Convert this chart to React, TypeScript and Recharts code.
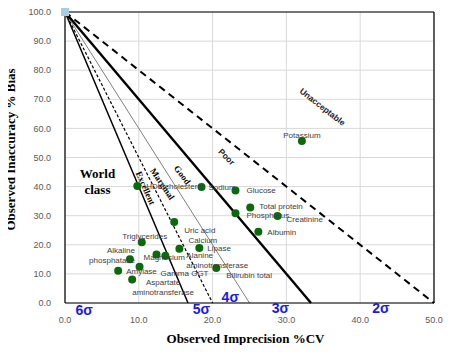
import { ScatterChart, Scatter, XAxis, YAxis, CartesianGrid, ReferenceLine, ReferenceDot, Label } from 'recharts'

// sigma decision lines, TEa = 100 %
const teaPercent = 100
const sigmaLevels = [6, 5, 4, 3, 2]
const sigmaLabelX = [2.6, 18.5, 22.4, 29.2, 42.8]
const sigmaLabelY = [-2.4, -2.1, 2.1, -1.7, -1.7]

const zoneNames = ['World\nclass', 'Excellent', 'Marginal', 'Good', 'Poor', 'Unacceptable']
const zoneX = [4.4, 10.9, 13.2, 15.9, 21.9, 34.9]
const zoneY = [42.0, 39.5, 40.9, 44.0, 50.2, 67.4]
const zoneAngle = [0, 66, 56, 53, 45, 38]

const analytes = [
  'HDL-cholesterol', 'Sodium', 'Glucose', 'Potassium', 'Total protein', 'Phosphorus',
  'Creatinine', 'Albumin', 'Uric acid', 'Triglycerides', 'Alkaline\nphosphatase', 'Magnesium',
  'Amylase', 'Aspartate\naminotransferase', 'Gamma GGT', 'Alanine\naminotransferase', 'Calcium',
  'Lipase', 'Bilirubin total',
]
const cvValues = [9.8, 18.5, 23.1, 32.1, 25.1, 23.1, 28.8, 26.2, 14.8, 10.4, 8.8, 10.1, 7.2, 9.1, 12.4, 13.6, 15.5, 18.2, 20.5]
const biasValues = [40.2, 39.9, 38.7, 55.7, 32.8, 30.8, 29.9, 24.5, 27.8, 20.9, 15.0, 12.5, 11.1, 8.1, 16.7, 16.2, 18.6, 18.9, 12.0]
// label offset in px from the point: dx, dy, anchor
const labelOffsets: [number, number, string][] = [
  [9, 0, 'start'], [7, 0, 'start'], [11, 0, 'start'], [0, -6, 'middle'], [9, -2, 'start'], [11, 2, 'start'],
  [9, 3, 'start'], [9, 0, 'start'], [10, 8, 'start'], [3, -6, 'middle'], [5, -4, 'end'], [4, -10, 'start'],
  [8, 0, 'start'], [31, 8, 'middle'], [4, 19, 'start'], [21, 4, 'start'], [9, -9, 'start'],
  [8, 0, 'start'], [10, 7, 'start'],
]

const points = analytes.map((name, i) => ({ name, x: cvValues[i], y: biasValues[i] }))
const origin = [{ x: 0, y: 100 }]
const xTicks = [0, 10, 20, 30, 40, 50]
const yTicks = [0, 10, 20, 30, 40, 50, 60, 70, 80, 90, 100]

const lineStyles = [
  { stroke: '#000', strokeWidth: 1.5, dash: undefined },
  { stroke: '#000', strokeWidth: 1.2, dash: '3 2' },
  { stroke: '#808080', strokeWidth: 1, dash: undefined },
  { stroke: '#000', strokeWidth: 2.4, dash: undefined },
  { stroke: '#000', strokeWidth: 2, dash: '7 5' },
]

const tickStyle = { fill: '#595959', fontSize: 9, fontFamily: 'Liberation Sans, Arial' }

function MultiText({ x, y, text, anchor, size, family, weight, fill, angle = 0, lh = 10 }: any) {
  const lines = String(text).split('\n')
  const start = -((lines.length - 1) * lh) / 2
  return (
    <text x={x} y={y} textAnchor={anchor} fontSize={size} fontFamily={family} fontWeight={weight} fill={fill}
      dominantBaseline="central" transform={angle ? `rotate(${angle} ${x} ${y})` : undefined}>
      {lines.map((l, i) => (
        <tspan key={i} x={x} y={y + start + i * lh}>{l}</tspan>
      ))}
    </text>
  )
}

export default function App() {
  return (
    <div style={{ margin: -8, width: 474, height: 353, background: '#fff' }}>
      <ScatterChart width={474} height={353} margin={{ top: 12, right: 40, bottom: 0, left: 0 }}>
        <CartesianGrid stroke="#d9d9d9" strokeWidth={1} />
        <XAxis type="number" dataKey="x" domain={[0, 50]} ticks={xTicks} tickFormatter={(v: number) => v.toFixed(1)}
          tick={tickStyle} tickLine={false} axisLine={{ stroke: '#000', strokeWidth: 1.2 }} height={50} tickMargin={8}>
          <Label value="Observed Imprecision %CV" position="insideBottom" offset={10} dx={-4}
            style={{ fontFamily: 'Liberation Serif, Times New Roman', fontWeight: 'bold', fontSize: 13, fill: '#000' }} />
        </XAxis>
        <YAxis type="number" dataKey="y" domain={[0, 100]} ticks={yTicks} tickFormatter={(v: number) => v.toFixed(1)}
          tick={tickStyle} tickLine={false} axisLine={{ stroke: '#000', strokeWidth: 1.2 }} width={65} tickMargin={8}>
          <Label value="Observed Inaccuracy % Bias" angle={-90} position="insideLeft" offset={10} dy={-8}
            style={{ textAnchor: 'middle', fontFamily: 'Liberation Serif, Times New Roman', fontWeight: 'bold', fontSize: 13, fill: '#000' }} />
        </YAxis>
        <ReferenceLine y={100} stroke="#000" strokeWidth={1.2} />
        <ReferenceLine x={50} stroke="#000" strokeWidth={1.2} />
        {sigmaLevels.map((s, i) => (
          <ReferenceLine key={s} segment={[{ x: 0, y: 100 }, { x: teaPercent / s, y: 0 }]}
            stroke={lineStyles[i].stroke} strokeWidth={lineStyles[i].strokeWidth} strokeDasharray={lineStyles[i].dash} />
        ))}
        {zoneNames.map((z, i) => (
          <ReferenceDot key={z} x={zoneX[i]} y={zoneY[i]} r={0} ifOverflow="visible"
            shape={(p: any) => (
              <MultiText x={p.cx} y={p.cy} text={z} anchor="middle" angle={zoneAngle[i]}
                size={i === 0 ? 13 : i < 4 ? 9 : 8.5} lh={16}
                family={i < 4 ? 'Liberation Serif, Times New Roman' : 'Liberation Sans, Arial'}
                weight="bold" fill={i < 4 ? '#000' : '#222'} />
            )} />
        ))}
        {sigmaLevels.map((s, i) => (
          <ReferenceDot key={'s' + s} x={sigmaLabelX[i]} y={sigmaLabelY[i]} r={0} ifOverflow="visible"
            shape={(p: any) => (
              <MultiText x={p.cx} y={p.cy} text={`${s}σ`} anchor="middle" size={14}
                family="Liberation Sans, Arial" weight="bold" fill="#1a1ae6" />
            )} />
        ))}
        <Scatter data={origin} isAnimationActive={false}
          shape={(p: any) => <rect x={p.cx - 4} y={p.cy - 4} width={8} height={8} fill="#a6cde0" />} />
        <Scatter data={points} isAnimationActive={false}
          shape={(p: any) => <circle cx={p.cx} cy={p.cy} r={4} fill="#0b6a0b" />} />
        {points.map((pt, i) => (
          <ReferenceDot key={pt.name} x={pt.x} y={pt.y} r={0} ifOverflow="visible"
            shape={(p: any) => (
              <MultiText x={p.cx + labelOffsets[i][0]} y={p.cy + labelOffsets[i][1]} text={pt.name}
                anchor={labelOffsets[i][2]} size={8} lh={10} family="Liberation Sans, Arial" weight="normal" fill="#404040" />
            )} />
        ))}
      </ScatterChart>
    </div>
  )
}
